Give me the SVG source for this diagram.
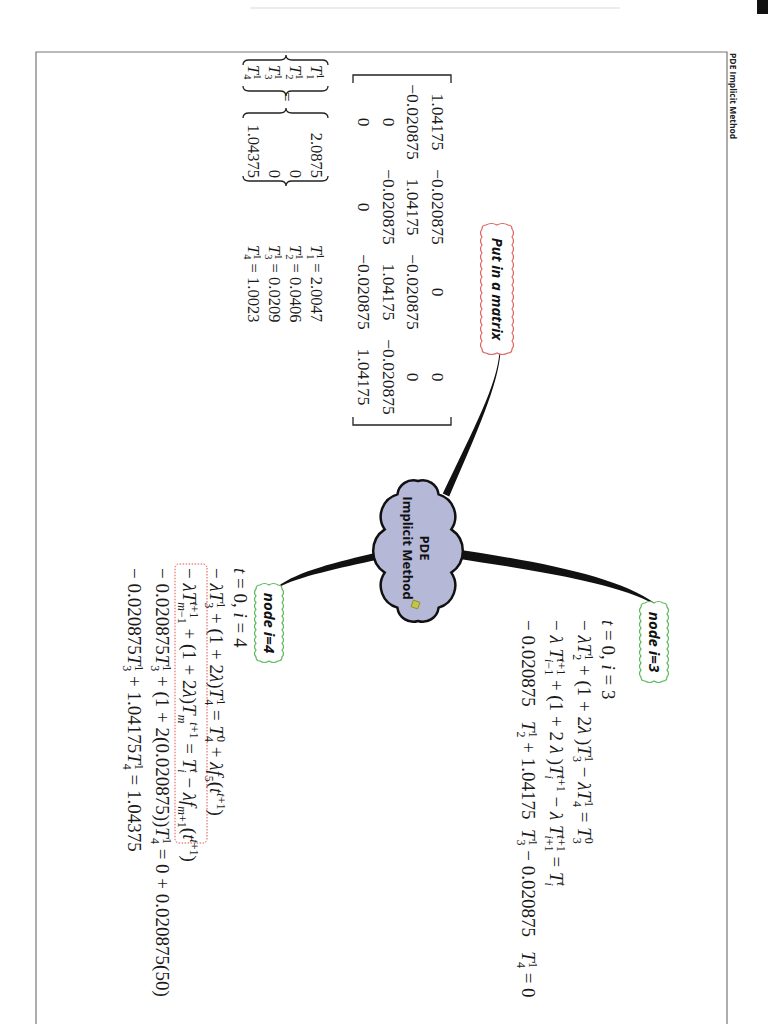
<svg xmlns="http://www.w3.org/2000/svg" width="768" height="1024" viewBox="0 0 768 1024">
<style>
.q{font-family:"Liberation Serif","Times New Roman",serif;font-size:19px;fill:#1a1a1a}
.mx{font-family:"Liberation Serif","Times New Roman",serif;font-size:17.5px;fill:#1a1a1a}
.vx{font-family:"Liberation Serif","Times New Roman",serif;font-size:16.5px;fill:#1a1a1a}
.i{font-style:italic}
.s{font-size:12px}
.s3{font-size:10.5px}
.lbl{font-family:"Open Sans","Liberation Sans",sans-serif;font-weight:bold;font-style:italic;fill:#111}
.ctr{font-family:"Open Sans","Liberation Sans",sans-serif;font-weight:bold;font-size:13px;fill:#111}
.ttl{font-family:"Open Sans","Liberation Sans",sans-serif;font-weight:bold;font-size:8.5px;fill:#222}
.frame{fill:none;stroke:#777;stroke-width:1.2}
.br{fill:none;stroke:#222;stroke-width:1.3}
.conn{fill:#111}
.red{fill:#fff;stroke:#e06060;stroke-width:1.2}
.grn{fill:#fff;stroke:#5cb85c;stroke-width:1.2}
</style>
<rect width="768" height="1024" fill="#fff"/>
<rect x="757" y="0" width="11" height="14" fill="#111"/>
<line x1="250" y1="8" x2="620" y2="8" stroke="#ececec" stroke-width="2"/>
<g transform="translate(768,0) rotate(90)">
  <path class="frame" d="M1030 41 L52 41 L52 732 L1030 732"/>
  <text class="ttl" x="53" y="38">PDE Implicit Method</text>

  <g id="connectors">
    <path class="conn" d="M352 267.5 C385 270 430 290 496.5 318.8 L493.5 325.2 C426 293 385 271 352 268.5 Z"/>
    <path class="conn" d="M548.5 317.3 C561.5 229 576.5 149.5 603.6 112.7 L604.4 113.3 C583.5 150.5 570.5 231 557.5 318.7 Z"/>
    <path class="conn" d="M559.4 389.2 C568 429 576.5 469.5 587.3 489.7 L586.7 490.3 C571.5 470.5 562 431 552.6 390.8 Z"/>
  </g>

  <g id="node-center">
    <path d="M621 350 A16 16 0 0 1 607.6 370.6 A23 23 0 0 1 572.6 383.3 A26 26 0 0 1 529.4 383.3 A23 23 0 0 1 494.4 370.6 A16 16 0 0 1 481 350 A16 16 0 0 1 494.4 329.4 A23 23 0 0 1 529.4 316.7 A26 26 0 0 1 572.6 316.7 A23 23 0 0 1 607.6 329.4 A16 16 0 0 1 621 350 Z" fill="#b6b8d8" stroke="#111" stroke-width="2.5"/>
    <text class="ctr" x="548" y="348" text-anchor="middle">PDE</text>
    <text class="ctr" x="548" y="365" text-anchor="middle">Implicit Method</text>
    <rect x="601" y="349" width="7" height="7" fill="#c4c44a" stroke="#8a8a20" stroke-width="0.8" transform="rotate(20 604.5 352.5)"/>
  </g>

  <g id="node-matrix">
    <path class="red" d="M229 256 q4 -3 8 0 q4 -3 8 0 q4 -3 8 0 q4 -3 8 0 q4 -3 8 0 q4 -3 8 0 q4 -3 8 0 q4 -3 8 0 q4 -3 8 0 q4 -3 8 0 q4 -3 8 0 q4 -3 8 0 q4 -3 8 0 q4 -3 8 0 q4 -3 8 0 q4 0 4 4 q3 5.5 0 11 q3 5.5 0 11 q0 4 -4 4 q-4 3 -8 0 q-4 3 -8 0 q-4 3 -8 0 q-4 3 -8 0 q-4 3 -8 0 q-4 3 -8 0 q-4 3 -8 0 q-4 3 -8 0 q-4 3 -8 0 q-4 3 -8 0 q-4 3 -8 0 q-4 3 -8 0 q-4 3 -8 0 q-4 3 -8 0 q-4 3 -8 0 q-4 0 -4 -4 q-3 -5.5 0 -11 q-3 -5.5 0 -11 q0 -4 4 -4 Z"/>
    <text class="lbl" x="289" y="276" font-size="14.5" text-anchor="middle">Put in a matrix</text>
  </g>

  <g id="note-matrix">
    <path class="br" d="M83 317 L75 317 L75 415 L83 415"/>
    <path class="br" d="M417 317 L425 317 L425 415 L417 415"/>
    <g class="mx" text-anchor="middle">
      <text x="122" y="336">1.04175</text>
      <text x="207" y="336">−0.020875</text>
      <text x="292" y="336">0</text>
      <text x="377" y="336">0</text>
      <text x="122" y="361">−0.020875</text>
      <text x="207" y="361">1.04175</text>
      <text x="292" y="361">−0.020875</text>
      <text x="377" y="361">0</text>
      <text x="122" y="385">0</text>
      <text x="207" y="385">−0.020875</text>
      <text x="292" y="385">1.04175</text>
      <text x="377" y="385">−0.020875</text>
      <text x="122" y="410">0</text>
      <text x="207" y="410">0</text>
      <text x="292" y="410">−0.020875</text>
      <text x="377" y="410">1.04175</text>
    </g>
    <path class="br" d="M65 440 Q60 440 60 446 L60 476 Q60 482 55 482 Q60 482 60 488 L60 519 Q60 525 65 525"/>
    <path class="br" d="M86 440 Q91 440 91 446 L91 476 Q91 482 96 482 Q91 482 91 488 L91 519 Q91 525 86 525"/>
    <path class="br" d="M118 440 Q113 440 113 446 L113 476 Q113 482 108 482 Q113 482 113 488 L113 519 Q113 525 118 525"/>
    <path class="br" d="M176 440 Q181 440 181 446 L181 476 Q181 482 186 482 Q181 482 181 488 L181 519 Q181 525 176 525"/>
    <text class="vx" x="97" y="487" text-anchor="middle">=</text>
    <text class="vx" x="65" y="457"><tspan class="i">T</tspan><tspan class="s3" dy="4">1</tspan><tspan class="s3" dx="-5.2" dy="-10">1</tspan></text>
    <text class="vx" x="65" y="478"><tspan class="i">T</tspan><tspan class="s3" dy="4">2</tspan><tspan class="s3" dx="-5.2" dy="-10">1</tspan></text>
    <text class="vx" x="65" y="499"><tspan class="i">T</tspan><tspan class="s3" dy="4">3</tspan><tspan class="s3" dx="-5.2" dy="-10">1</tspan></text>
    <text class="vx" x="65" y="520"><tspan class="i">T</tspan><tspan class="s3" dy="4">4</tspan><tspan class="s3" dx="-5.2" dy="-10">1</tspan></text>
    <g class="vx" text-anchor="end">
      <text x="178" y="457">2.0875</text>
      <text x="178" y="478">0</text>
      <text x="178" y="499">0</text>
      <text x="178" y="520">1.04375</text>
    </g>
    <text class="vx" x="245" y="457"><tspan class="i">T</tspan><tspan class="s3" dy="4">1</tspan><tspan class="s3" dx="-5.2" dy="-10">1</tspan><tspan dy="6"> = 2.0047</tspan></text>
    <text class="vx" x="245" y="478"><tspan class="i">T</tspan><tspan class="s3" dy="4">2</tspan><tspan class="s3" dx="-5.2" dy="-10">1</tspan><tspan dy="6"> = 0.0406</tspan></text>
    <text class="vx" x="245" y="499"><tspan class="i">T</tspan><tspan class="s3" dy="4">3</tspan><tspan class="s3" dx="-5.2" dy="-10">1</tspan><tspan dy="6"> = 0.0209</tspan></text>
    <text class="vx" x="245" y="520"><tspan class="i">T</tspan><tspan class="s3" dy="4">4</tspan><tspan class="s3" dx="-5.2" dy="-10">1</tspan><tspan dy="6"> = 1.0023</tspan></text>
  </g>

  <g id="node-i3">
    <path class="grn" d="M607 101 q3.5 -3 7 0 q3.5 -3 7 0 q3.5 -3 7 0 q3.5 -3 7 0 q3.5 -3 7 0 q3.5 -3 7 0 q3.5 -3 7 0 q3.5 -3 7 0 q3.5 -3 7 0 q3.5 -3 7 0 q4 0 4 4 q3 4.5 0 9 q3 4.5 0 9 q0 4 -4 4 q-3.5 3 -7 0 q-3.5 3 -7 0 q-3.5 3 -7 0 q-3.5 3 -7 0 q-3.5 3 -7 0 q-3.5 3 -7 0 q-3.5 3 -7 0 q-3.5 3 -7 0 q-3.5 3 -7 0 q-3.5 3 -7 0 q-4 0 -4 -4 q-3 -4.5 0 -9 q-3 -4.5 0 -9 q0 -4 4 -4 Z"/>
    <text class="lbl" x="642" y="119.5" font-size="15" text-anchor="middle">node i=3</text>
  </g>

  <g id="note-i3">
    <text class="q" x="620" y="166" xml:space="preserve"><tspan class="i">t</tspan> = 0, <tspan class="i">i</tspan> = 3</text>
    <text class="q" x="620" y="190" xml:space="preserve">− <tspan class="i">λT</tspan><tspan class="s" dy="5">2</tspan><tspan class="s" dx="-6" dy="-12">1</tspan><tspan dy="7"> + (1 + 2</tspan><tspan class="i">λ</tspan><tspan> )</tspan><tspan class="i">T</tspan><tspan class="s" dy="5">3</tspan><tspan class="s" dx="-6" dy="-12">1</tspan><tspan dy="7"> − </tspan><tspan class="i">λT</tspan><tspan class="s" dy="5">4</tspan><tspan class="s" dx="-6" dy="-12">1</tspan><tspan dy="7"> = </tspan><tspan class="i">T</tspan><tspan class="s" dy="5">3</tspan><tspan class="s" dx="-6" dy="-12">0</tspan></text>
    <text class="q" x="620" y="218" xml:space="preserve">− <tspan class="i">λ T</tspan><tspan class="s" dy="5"><tspan class="i">i</tspan>−1</tspan><tspan class="s" dx="-16.1" dy="-12"><tspan class="i">t</tspan>+1</tspan><tspan dy="7"> + (1 + 2 </tspan><tspan class="i">λ</tspan><tspan> )</tspan><tspan class="i">T</tspan><tspan class="s i" dy="5">i</tspan><tspan class="s" dx="-3.3" dy="-12"><tspan class="i">t</tspan>+1</tspan><tspan dy="7"> − </tspan><tspan class="i">λ T</tspan><tspan class="s" dy="5"><tspan class="i">i</tspan>+1</tspan><tspan class="s" dx="-16.1" dy="-12"><tspan class="i">t</tspan>+1</tspan><tspan dy="7"> = </tspan><tspan class="i">T</tspan><tspan class="s i" dy="5">i</tspan><tspan class="s i" dx="-3.3" dy="-12">t</tspan></text>
    <text class="q" x="620" y="246" xml:space="preserve">− 0.020875   <tspan class="i">T</tspan><tspan class="s" dy="5">2</tspan><tspan class="s" dx="-6" dy="-12">1</tspan><tspan dy="7"> + 1.04175  </tspan><tspan class="i">T</tspan><tspan class="s" dy="5">3</tspan><tspan class="s" dx="-6" dy="-12">1</tspan><tspan dy="7"> − 0.020875   </tspan><tspan class="i">T</tspan><tspan class="s" dy="5">4</tspan><tspan class="s" dx="-6" dy="-12">1</tspan><tspan dy="7"> = 0</tspan></text>
  </g>

  <g id="node-i4">
    <path class="grn" d="M589 486 q3.4 -3 6.8 0 q3.4 -3 6.8 0 q3.4 -3 6.8 0 q3.4 -3 6.8 0 q3.4 -3 6.8 0 q3.4 -3 6.8 0 q3.4 -3 6.8 0 q3.4 -3 6.8 0 q3.4 -3 6.8 0 q3.4 -3 6.8 0 q4 0 4 4 q3 4.5 0 9 q3 4.5 0 9 q0 4 -4 4 q-3.4 3 -6.8 0 q-3.4 3 -6.8 0 q-3.4 3 -6.8 0 q-3.4 3 -6.8 0 q-3.4 3 -6.8 0 q-3.4 3 -6.8 0 q-3.4 3 -6.8 0 q-3.4 3 -6.8 0 q-3.4 3 -6.8 0 q-3.4 3 -6.8 0 q-4 0 -4 -4 q-3 -4.5 0 -9 q-3 -4.5 0 -9 q0 -4 4 -4 Z"/>
    <text class="lbl" x="623" y="504.5" font-size="15" text-anchor="middle">node i=4</text>
  </g>

  <g id="note-i4">
    <rect x="564" y="561" width="279" height="32" rx="4" fill="none" stroke="#e05050" stroke-width="1" stroke-dasharray="1.5 1.5"/>
    <text class="q" x="568" y="534" xml:space="preserve"><tspan class="i">t</tspan> = 0, <tspan class="i">i</tspan> = 4</text>
    <text class="q" x="568" y="558" xml:space="preserve">− <tspan class="i">λT</tspan><tspan class="s" dy="5">3</tspan><tspan class="s" dx="-6" dy="-12">1</tspan><tspan dy="7"> + (1 + 2</tspan><tspan class="i">λ</tspan><tspan>)</tspan><tspan class="i">T</tspan><tspan class="s" dy="5">4</tspan><tspan class="s" dx="-6" dy="-12">1</tspan><tspan dy="7"> = </tspan><tspan class="i">T</tspan><tspan class="s" dy="5">4</tspan><tspan class="s" dx="-6" dy="-12">0</tspan><tspan dy="7"> + </tspan><tspan class="i">λf</tspan><tspan class="s" dy="5">5</tspan><tspan dy="-5">(</tspan><tspan class="i">t</tspan><tspan class="s" dy="-7"><tspan class="i">t</tspan>+1</tspan><tspan dy="7">)</tspan></text>
    <text class="q" x="568" y="585" xml:space="preserve">− <tspan class="i">λT</tspan><tspan class="s" dy="5"><tspan class="i">m</tspan>−1</tspan><tspan class="s" dx="-21.5" dy="-12"><tspan class="i">t</tspan>+1</tspan><tspan dy="7" dx="5.4"> + (1 + 2</tspan><tspan class="i">λ</tspan><tspan>)</tspan><tspan class="i">T</tspan><tspan class="s i" dy="5">m</tspan><tspan class="s" dx="-4" dy="-12"> <tspan class="i">t</tspan>+1</tspan><tspan dy="7"> = </tspan><tspan class="i">T</tspan><tspan class="s i" dy="5">i</tspan><tspan class="s i" dx="-3.3" dy="-12">t</tspan><tspan dy="7"> − </tspan><tspan class="i">λf</tspan><tspan class="s" dy="5"><tspan class="i">m</tspan>+1</tspan><tspan dy="-5">(</tspan><tspan class="i">t</tspan><tspan class="s" dy="-7"><tspan class="i">t</tspan>+1</tspan><tspan dy="7">)</tspan></text>
    <text class="q" x="568" y="612" xml:space="preserve">− 0.020875<tspan class="i">T</tspan><tspan class="s" dy="5">3</tspan><tspan class="s" dx="-6" dy="-12">1</tspan><tspan dy="7"> + (1 + 2(0.020875))</tspan><tspan class="i">T</tspan><tspan class="s" dy="5">4</tspan><tspan class="s" dx="-6" dy="-12">1</tspan><tspan dy="7"> = 0 + 0.020875(50)</tspan></text>
    <text class="q" x="568" y="640" xml:space="preserve">− 0.020875<tspan class="i">T</tspan><tspan class="s" dy="5">3</tspan><tspan class="s" dx="-6" dy="-12">1</tspan><tspan dy="7"> + 1.04175</tspan><tspan class="i">T</tspan><tspan class="s" dy="5">4</tspan><tspan class="s" dx="-6" dy="-12">1</tspan><tspan dy="7"> = 1.04375</tspan></text>
  </g>
</g>
</svg>
